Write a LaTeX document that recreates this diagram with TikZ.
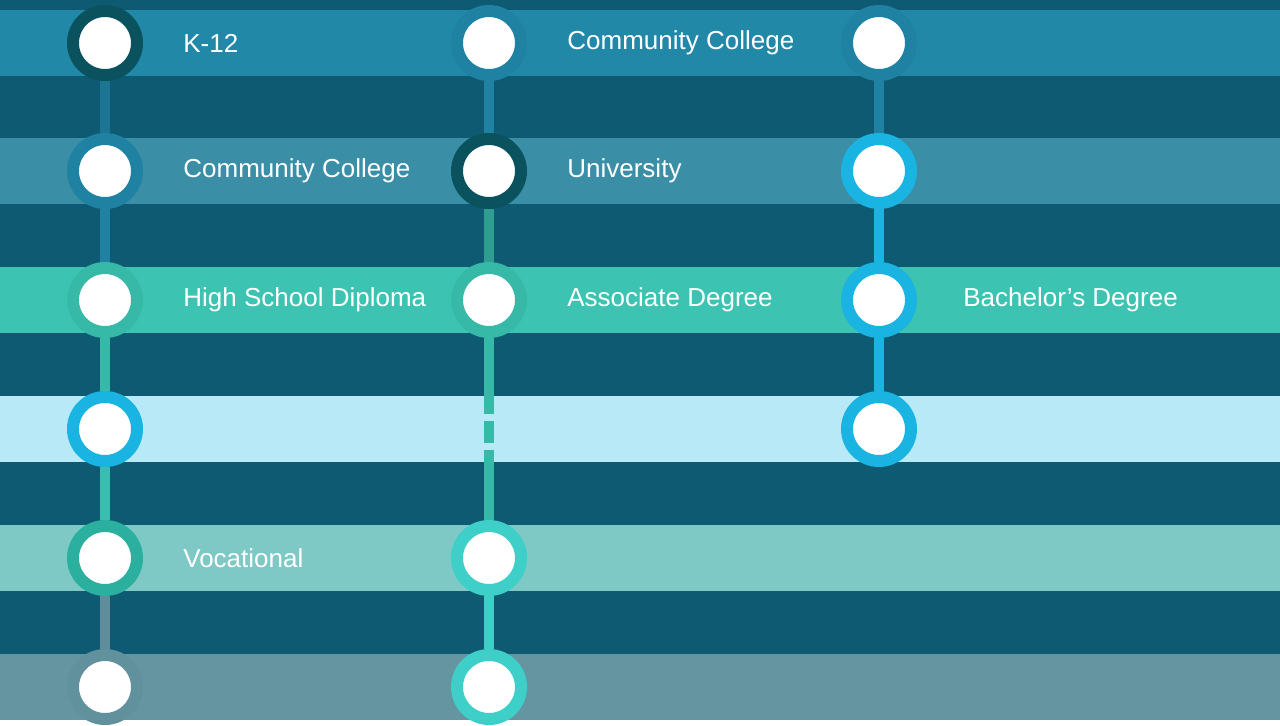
\documentclass[tikz,border=0pt]{standalone}
\usepackage{fontspec}
\setmainfont{Liberation Sans}
\usepackage{tikz}

\definecolor{bgdark}{HTML}{0F5A73}
\definecolor{bandA}{HTML}{2288A8}
\definecolor{bandB}{HTML}{3A8EA6}
\definecolor{bandC}{HTML}{3CC3B1}
\definecolor{bandD}{HTML}{B7E9F6}
\definecolor{bandE}{HTML}{7EC8C5}
\definecolor{bandF}{HTML}{6595A0}
\definecolor{ringdark}{HTML}{0A535E}
\definecolor{ringblue}{HTML}{1F82A2}
\definecolor{ringteal}{HTML}{37B9A8}
\definecolor{ringsky}{HTML}{19B4E2}
\definecolor{ringgreen}{HTML}{2BB0A0}
\definecolor{ringaqua}{HTML}{3ECFC9}
\definecolor{ringgray}{HTML}{5F8E9A}

\begin{document}
\begin{tikzpicture}[
  x=0.2mm, y=-0.2mm,
  stop/.style={draw=#1, circle, fill=white, line width=2.4mm, minimum size=12.8mm, inner sep=0pt},
  stoptext/.style={anchor=west, text=white, inner sep=0pt, font=\fontsize{14.8}{18}\selectfont},
  link/.style={draw=#1, line width=2mm}
]
\fill[bgdark] (0,0) rectangle (1280,720);
\foreach \y/\c in {10/bandA, 138/bandB, 267/bandC, 396/bandD, 525/bandE, 654/bandF}
  \fill[\c] (0,\y) rectangle (1280,\y+66);

\node[stop=ringdark] (k12) at (105,43) {};
\node[stop=ringblue] (cc) at (105,171) {};
\node[stop=ringteal] (hs) at (105,300) {};
\node[stop=ringsky] (mid) at (105,429) {};
\node[stop=ringgreen] (voc) at (105,558) {};
\node[stop=ringgray!60!bandF] (base) at (105,687) {};

\node[stop=ringblue] (cc2) at (489,43) {};
\node[stop=ringdark] (uni) at (489,171) {};
\node[stop=ringteal] (assoc) at (489,300) {};
\node[stop=ringaqua] (voc2) at (489,558) {};
\node[stop=ringaqua] (base2) at (489,687) {};

\node[stop=ringblue] (top3) at (879,43) {};
\node[stop=ringsky] (uni3) at (879,171) {};
\node[stop=ringsky] (bach) at (879,300) {};
\node[stop=ringsky] (end3) at (879,429) {};

\coordinate (gapA) at (489,392);
\coordinate (gapB) at (489,470);

\draw[link=ringblue!90!black] (k12) -- (cc);
\draw[link=ringblue] (cc) -- (hs);
\draw[link=ringteal] (hs) -- (mid);
\draw[link=ringteal!80!ringaqua] (mid) -- (voc);
\draw[link=ringgray] (voc) -- (base);
\draw[link=ringblue] (cc2) -- (uni);
\draw[link=ringteal!85!black] (uni) -- (assoc);
\draw[link=ringteal] (assoc) -- (gapA);
\draw[link=ringteal, dash pattern=on 4.4mm off 1.4mm] (gapA) -- (gapB);
\draw[link=ringteal] (gapB) -- (voc2);
\draw[link=ringaqua] (voc2) -- (base2);
\draw[link=ringblue] (top3) -- (uni3);
\draw[link=ringsky] (uni3) -- (bach);
\draw[link=ringsky] (bach) -- (end3);

\node[stoptext] (tk12) at (183,43) {K-12};
\node[stoptext] (tcc) at (183,171) {Community College};
\node[stoptext] (ths) at (183,300) {High School Diploma};
\node[stoptext] (tvoc) at (183,558) {Vocational};
\node[stoptext] (tcc2) at (567,43) {Community College};
\node[stoptext] (tuni) at (567,171) {University};
\node[stoptext] (tassoc) at (567,300) {Associate Degree};
\node[stoptext] (tbach) at (963,300) {Bachelor's Degree};
\end{tikzpicture}
\end{document}
